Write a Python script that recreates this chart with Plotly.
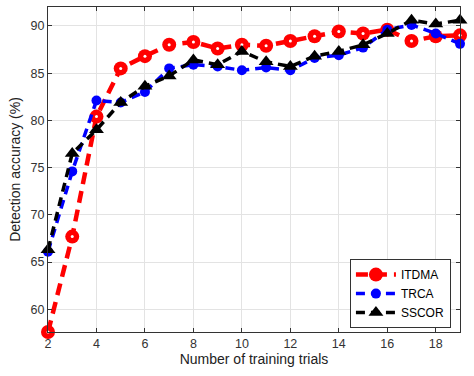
import plotly.graph_objects as go

trials = list(range(2, 20))
itdma = [57.6, 67.7, 80.4, 85.5, 86.8, 88.0, 88.3, 87.6, 88.0, 87.9, 88.4, 88.9, 89.4, 89.2, 89.6, 88.4, 88.9, 89.0]
trca  = [66.1, 74.6, 82.1, 81.9, 83.0, 85.5, 85.9, 85.7, 85.3, 85.6, 85.3, 86.6, 86.9, 87.7, 89.6, 90.1, 89.2, 88.1]
sscor = [66.3, 76.5, 79.0, 81.9, 83.6, 84.7, 86.4, 85.9, 87.3, 86.2, 85.7, 86.8, 87.3, 88.0, 89.2, 90.6, 90.2, 90.6]
x_ticks = [2, 4, 6, 8, 10, 12, 14, 16, 18]
y_ticks = [60, 65, 70, 75, 80, 85, 90]

FONT = "Liberation Sans, Arial"

fig = go.Figure()
fig.add_trace(go.Scatter(
    x=trials, y=itdma, name="ITDMA", mode="lines+markers", cliponaxis=False,
    line=dict(color="#ff0000", width=4.5, dash="12px,7px"),
    marker=dict(symbol="circle", size=14, color="#ff0000", line=dict(width=0)),
))
fig.add_trace(go.Scatter(
    x=trials, y=itdma, mode="markers", showlegend=False, cliponaxis=False,
    hoverinfo="skip",
    marker=dict(symbol="circle", size=3, color="#ffffff", line=dict(width=0)),
))
fig.add_trace(go.Scatter(
    x=trials, y=trca, name="TRCA", mode="lines+markers", cliponaxis=False,
    line=dict(color="#0000ff", width=3.5, dash="9px,6px"),
    marker=dict(symbol="circle", size=10, color="#0000ff", line=dict(width=0)),
))
fig.add_trace(go.Scatter(
    x=trials, y=sscor, name="SSCOR", mode="lines+markers", cliponaxis=False,
    line=dict(color="#000000", width=3.5, dash="9px,6px"),
    marker=dict(symbol="triangle-up", size=13, color="#000000", line=dict(width=0)),
))

axis_common = dict(
    showgrid=True, gridcolor="#e3e3e3", gridwidth=1,
    showline=True, linecolor="#333333", linewidth=1, mirror="ticks",
    ticks="inside", ticklen=4, tickcolor="#333333",
    tickfont=dict(family=FONT, size=12.5, color="#333333"),
    zeroline=False, automargin=False,
)

fig.update_layout(
    width=474, height=376,
    margin=dict(l=48, r=14, t=7, b=44),
    paper_bgcolor="white", plot_bgcolor="white",
    xaxis=dict(range=[2, 19], tickvals=x_ticks,
               title=dict(text="Number of training trials", standoff=4,
                          font=dict(family=FONT, size=14, color="#222222")),
               **axis_common),
    yaxis=dict(range=[57.6, 92], tickvals=y_ticks,
               title=dict(text="Detection accuracy (%)", standoff=6,
                          font=dict(family=FONT, size=14, color="#222222")),
               **axis_common),
    legend=dict(x=0.978, y=0.012, xanchor="right", yanchor="bottom",
                bgcolor="white", bordercolor="#333333", borderwidth=1,
                font=dict(family=FONT, size=12, color="#000000"),
                tracegroupgap=0, itemwidth=40),
    showlegend=True,
)

fig.write_html("out.html", config={"displayModeBar": False},
               post_script="document.body.style.margin='0';document.body.style.padding='0';")
